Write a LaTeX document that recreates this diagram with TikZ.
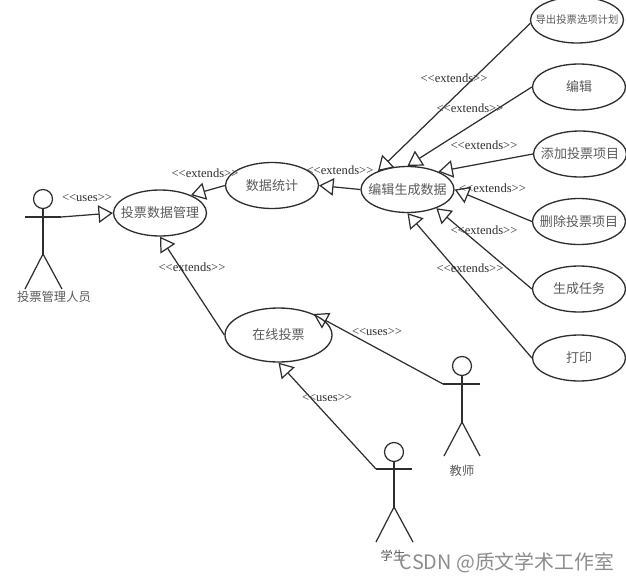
\documentclass[tikz,border=0pt]{standalone}
\usepackage{fontspec}
\setmainfont{Liberation Serif}
\newfontfamily\cjk{Noto Sans CJK SC}
\usepackage{tikz}
\usetikzlibrary{arrows.meta,shapes.geometric}

\newcommand{\uctext}[1]{\makebox[0pt]{#1}}
\definecolor{inkline}{gray}{0.18}
\definecolor{inktext}{gray}{0.35}

\tikzset{
  usecase/.style={draw=inkline,line width=0.75pt,ellipse,inner sep=0pt,minimum width=1.86cm,minimum height=0.92cm,font=\cjk\fontsize{7.4}{8}\selectfont,text=inktext},
  smallcase/.style={font=\cjk\fontsize{5.9}{7}\selectfont},
  actorhead/.style={draw=inkline,line width=0.7pt,circle,inner sep=0pt,minimum size=0.38cm},
  actorline/.style={draw=inkline,line width=0.7pt},
  actorname/.style={font=\cjk\fontsize{7}{8}\selectfont,text=inktext},
  stereo/.style={font=\fontsize{7.15}{8}\selectfont,text=inkline,inner sep=0pt},
  inherit/.style={draw=inkline,line width=0.7pt,-{Triangle[open,length=8.2pt,width=10pt]}},
}

\begin{document}
\begin{tikzpicture}[x=0.02cm,y=-0.02cm]
  \useasboundingbox (0,0) rectangle (626,582);

  % 用例
  \node[usecase] (manage) at (160,213) {\uctext{投票数据管理}};
  \node[usecase] (stat) at (272,185.5) {\uctext{数据统计}};
  \node[usecase] (gen) at (407.5,189.5) {\uctext{编辑生成数据}};
  \node[usecase,smallcase] (export) at (577,20) {\uctext{导出投票选项计划}};
  \node[usecase] (edit) at (579,87) {\uctext{编辑}};
  \node[usecase] (add) at (580,154) {\uctext{添加投票项目}};
  \node[usecase] (del) at (579,221.5) {\uctext{删除投票项目}};
  \node[usecase] (task) at (579,289) {\uctext{生成任务}};
  \node[usecase] (print) at (579,358) {\uctext{打印}};
  \node[usecase,minimum width=2.14cm,minimum height=1.08cm] (online) at (278.5,335) {\uctext{在线投票}};

  % 投票管理人员
  \node[actorhead] (adminhead) at (43,199) {};
  \coordinate (adminlhand) at (25,217);
  \coordinate (adminrhand) at (61,217);
  \coordinate (adminhip) at (43,254);
  \coordinate (adminlfoot) at (25,289);
  \coordinate (adminrfoot) at (62,289);
  \draw[actorline] (adminhead) -- (adminhip);
  \draw[actorline] (adminlhand) -- (adminrhand);
  \draw[actorline] (adminlfoot) -- (adminhip) -- (adminrfoot);
  \node[actorname] (adminname) at (54,297) {\cjk 投票管理人员};

  % 教师
  \node[actorhead] (teacherhead) at (462,366) {};
  \coordinate (teacherlhand) at (443,384);
  \coordinate (teacherrhand) at (480,384);
  \coordinate (teacherhip) at (462,422);
  \coordinate (teacherlfoot) at (444,456);
  \coordinate (teacherrfoot) at (480,456);
  \draw[actorline] (teacherhead) -- (teacherhip);
  \draw[actorline] (teacherlhand) -- (teacherrhand);
  \draw[actorline] (teacherlfoot) -- (teacherhip) -- (teacherrfoot);
  \node[actorname] (teachername) at (462,471) {\cjk 教师};

  % 学生
  \node[actorhead] (studenthead) at (394,452) {};
  \coordinate (studentlhand) at (376,469);
  \coordinate (studentrhand) at (412,469);
  \coordinate (studenthip) at (394,507);
  \coordinate (studentlfoot) at (376,542);
  \coordinate (studentrfoot) at (413,542);
  \draw[actorline] (studenthead) -- (studenthip);
  \draw[actorline] (studentlhand) -- (studentrhand);
  \draw[actorline] (studentlfoot) -- (studenthip) -- (studentrfoot);
  \node[actorname] (studentname) at (393,556) {\cjk 学生};

  % 连线
  \draw[inherit] (adminrhand) -- (manage.west);
  \draw[inherit] (stat.west) -- (manage.30);
  \draw[inherit] (gen.west) -- (stat.east);
  \draw[inherit] (export.184) -- (gen.148);
  \draw[inherit] (edit.west) -- (gen.north);
  \draw[inherit] (add.west) -- (gen.30);
  \draw[inherit] (del.west) -- (gen.east);
  \draw[inherit] (task.west) -- (gen.-33);
  \draw[inherit] (print.west) -- (gen.south);
  \draw[inherit] (online.west) -- (manage.south);
  \draw[inherit] (teacherlhand) -- (online.31);
  \draw[inherit] (studentlhand) -- (online.south);

  % 标注
  \node[stereo] (usesa) at (87,198) {<{}<uses>{}>};
  \node[stereo] (extmanage) at (205,173) {<{}<extends>{}>};
  \node[stereo] (extstat) at (340,170) {<{}<extends>{}>};
  \node[stereo] (extexport) at (454,78) {<{}<extends>{}>};
  \node[stereo] (extedit) at (470,108) {<{}<extends>{}>};
  \node[stereo] (extadd) at (484,145) {<{}<extends>{}>};
  \node[stereo] (extdel) at (492.5,188) {<{}<extends>{}>};
  \node[stereo] (exttask) at (484,230) {<{}<extends>{}>};
  \node[stereo] (extprint) at (470,268) {<{}<extends>{}>};
  \node[stereo] (extonline) at (192,267) {<{}<extends>{}>};
  \node[stereo] (usesb) at (377,332) {<{}<uses>{}>};
  \node[stereo] (usesc) at (327,398) {<{}<uses>{}>};

  \node[font=\cjk\fontsize{11.3}{13}\selectfont,text=black!45,inner sep=0pt] (mark) at (507,563) {CSDN @质文学术工作室};
\end{tikzpicture}
\end{document}
